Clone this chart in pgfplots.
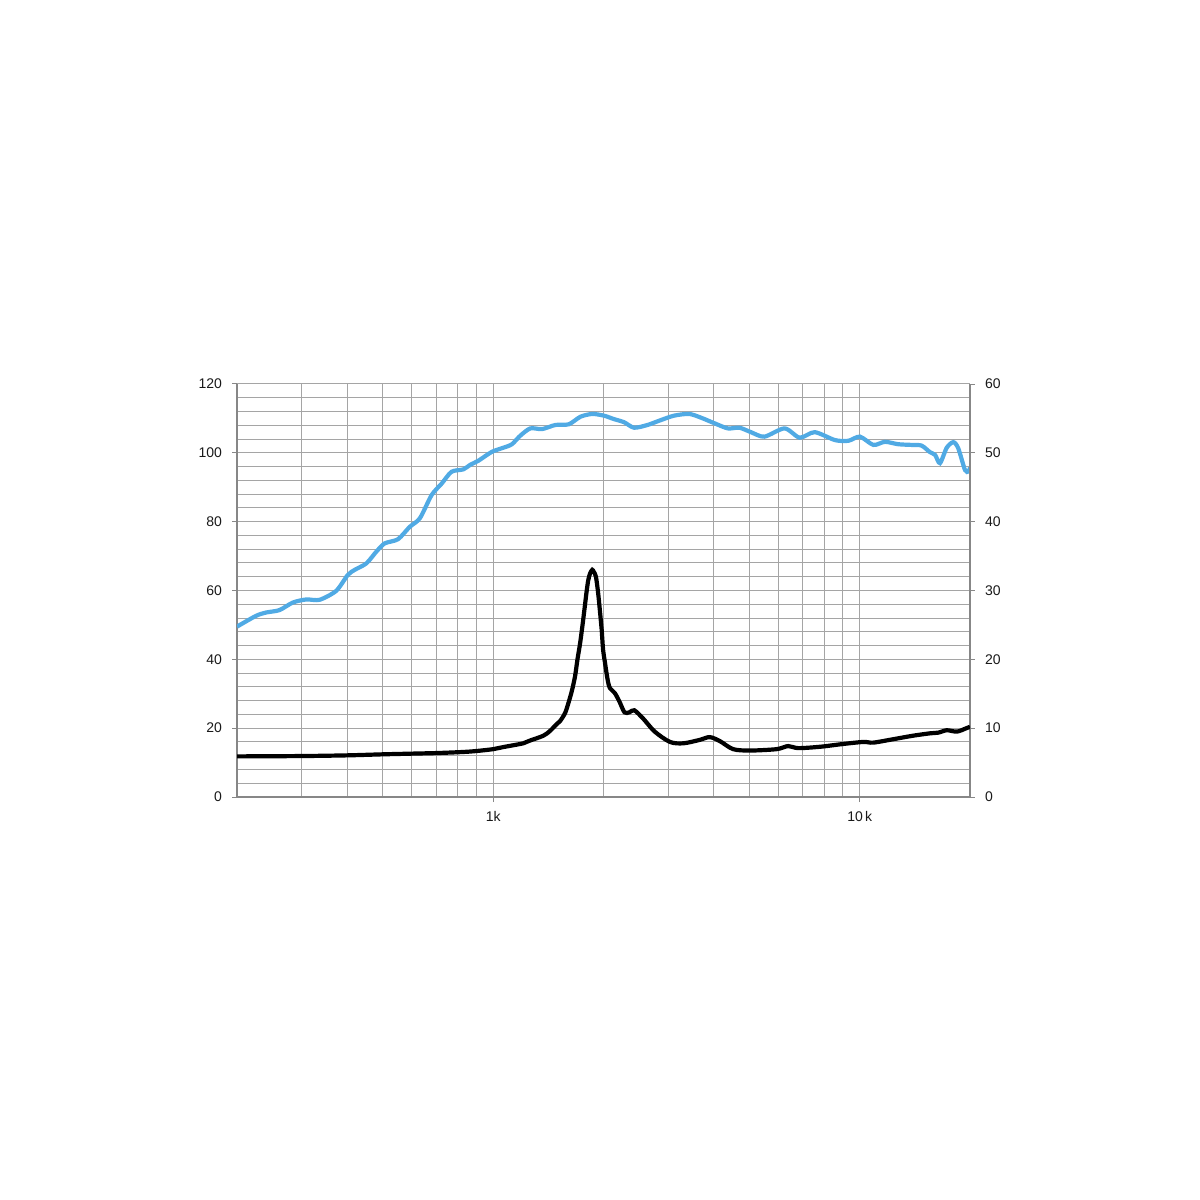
\documentclass[border=0pt]{standalone}
\usepackage{pgfplots}
\pgfplotsset{compat=1.18}
\usepackage{fontspec}
\setmainfont{Liberation Sans}
\definecolor{spl}{RGB}{80,170,228}
\definecolor{gridgray}{RGB}{165,165,165}
\definecolor{axgray}{RGB}{135,135,135}
\definecolor{txt}{RGB}{25,25,25}
\pgfkeys{/pgf/number format/assume math mode=true}
\begin{document}
\begin{tikzpicture}
\useasboundingbox (-118.5pt,-201.5pt) rectangle (481.5pt,398.5pt);
\begin{axis}[
  scale only axis, width=366.5pt, height=206.5pt,
  xmode=log, xmin=200, xmax=20000,
  tick label style={font=\fontsize{7}{8}\selectfont, text=txt},
  tick align=outside, major tick length=2.5pt, minor tick length=0pt,
  every tick/.style={axgray, line width=0.5pt},
  axis line style={axgray, line width=0.6pt},
  ymin=0, ymax=120, ytick={0,20,...,120},
  minor ytick={4,8,12,16,24,28,32,36,44,48,52,56,64,68,72,76,84,88,92,96,104,108,112,116},
  xtick={1000,10000}, xticklabels={1k,10\,k},
  minor xtick={300,400,500,600,700,800,900,2000,3000,4000,5000,6000,7000,8000,9000},
  grid=both,
  major grid style={gridgray, line width=0.5pt},
  minor grid style={gridgray, line width=0.5pt},
  axis y line*=left, axis x line*=bottom,
  yticklabel style={xshift=-1.5pt},
  xticklabel style={yshift=-1pt},
]
\addplot[spl, line width=2.1pt, smooth, tension=0.45] table {
200 49.5
225 52.6
240 53.6
261 54.3
284 56.5
309 57.4
336 57.3
373 59.9
401 64.5
419 66.0
451 67.9
480 71.3
506 73.7
550 74.9
592 78.5
631 81.0
679 87.7
724 91.1
770 94.5
829 95.2
865 96.5
911 97.7
992 100.3
1067 101.5
1125 102.5
1186 105.0
1263 107.1
1360 106.9
1479 108.1
1608 108.3
1731 110.5
1864 111.3
2005 110.8
2136 109.8
2275 108.9
2424 107.3
2637 108.1
2865 109.5
3115 110.8
3425 111.3
3693 110.2
4013 108.6
4368 107.1
4697 107.3
5051 106.0
5494 104.7
6240 107.1
6859 104.4
7540 106.0
8561 103.7
9312 103.5
10014 104.7
10897 102.3
11717 103.2
12738 102.5
13849 102.3
14753 102.1
15550 100.2
16060 99.4
16560 97.0
17280 101.5
18010 103.1
18580 101.3
19380 95.0
19800 94.6
20000 95.7
};
\end{axis}
\begin{axis}[
  scale only axis, width=366.5pt, height=206.5pt,
  xmode=log, xmin=200, xmax=20000,
  tick label style={font=\fontsize{7}{8}\selectfont, text=txt},
  tick align=outside, major tick length=2.5pt, minor tick length=0pt,
  every tick/.style={axgray, line width=0.5pt},
  axis line style={axgray, line width=0.6pt},
  ymin=0, ymax=60, ytick={0,10,...,60},
  axis y line*=right, axis x line=none,
  yticklabel style={xshift=1.5pt},
]
\addplot[black, line width=2.1pt, smooth, tension=0.5] table {
200 5.9
300 5.95
400 6.05
500 6.2
600 6.3
716 6.4
864 6.6
1000 6.95
1065 7.25
1208 7.8
1260 8.2
1370 8.9
1429 9.6
1491 10.6
1521 11.0
1571 12.2
1603 13.6
1637 15.3
1672 17.5
1697 19.9
1726 22.3
1755 25.2
1782 28.1
1798 29.8
1817 31.5
1839 32.5
1864 33.0
1882 32.7
1907 32.0
1932 29.8
1954 27.2
1977 24.3
1995 21.4
2020 19.4
2038 18.0
2060 16.6
2083 15.8
2147 15.1
2213 13.8
2282 12.3
2353 12.3
2426 12.6
2565 11.4
2759 9.5
3036 8.0
3303 7.8
3661 8.3
3900 8.7
4160 8.1
4517 6.95
5021 6.75
5930 6.95
6380 7.4
6800 7.1
7800 7.3
9000 7.7
10240 8.0
10890 7.9
12360 8.4
13960 8.9
15550 9.25
16380 9.35
17280 9.7
18420 9.5
19560 10.0
20000 10.2
};
\end{axis}
\end{tikzpicture}
\end{document}
